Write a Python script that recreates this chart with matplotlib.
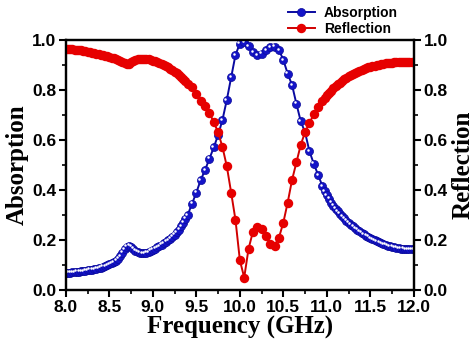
import numpy as np
import matplotlib
matplotlib.use("Agg")
import matplotlib.pyplot as plt
from matplotlib.transforms import offset_copy

plt.rcParams.update({
    "font.family": "Liberation Sans",
    "font.weight": "bold",
    "font.size": 12,
})

# frequency samples (GHz): dense at the edges, coarser in the band
freq_low = [8.0, 8.025, 8.05, 8.075, 8.1, 8.125, 8.15, 8.175, 8.2, 8.225,
            8.25, 8.275, 8.3, 8.325, 8.35, 8.375, 8.4, 8.425, 8.45, 8.475,
            8.5, 8.525, 8.55, 8.575, 8.6, 8.625, 8.65, 8.675, 8.7, 8.725,
            8.75, 8.775, 8.8, 8.825, 8.85, 8.875, 8.9, 8.925, 8.95, 8.975,
            9.0, 9.025, 9.05, 9.075, 9.1, 9.125, 9.15, 9.175, 9.2, 9.225,
            9.25, 9.275, 9.3, 9.325, 9.35, 9.375, 9.4]
freq_mid = [9.45, 9.5, 9.55, 9.6, 9.65, 9.7, 9.75, 9.8, 9.85, 9.9,
            9.95, 10.0, 10.05, 10.1, 10.15, 10.2, 10.25, 10.3, 10.35, 10.4,
            10.45, 10.5, 10.55, 10.6, 10.65, 10.7, 10.75, 10.8, 10.85, 10.9,
            10.95]
freq_high = [10.975, 11.0, 11.025, 11.05, 11.075, 11.1, 11.125, 11.15, 11.175, 11.2,
             11.225, 11.25, 11.275, 11.3, 11.325, 11.35, 11.375, 11.4, 11.425, 11.45,
             11.475, 11.5, 11.525, 11.55, 11.575, 11.6, 11.625, 11.65, 11.675, 11.7,
             11.725, 11.75, 11.775, 11.8, 11.825, 11.85, 11.875, 11.9, 11.925, 11.95,
             11.975, 12.0]

absorption_low = [0.068, 0.069, 0.070, 0.071, 0.072, 0.073, 0.074, 0.075, 0.076, 0.078,
                  0.079, 0.081, 0.082, 0.084, 0.086, 0.088, 0.090, 0.093, 0.096, 0.099,
                  0.103, 0.107, 0.112, 0.118, 0.126, 0.136, 0.150, 0.163, 0.174, 0.178,
                  0.173, 0.165, 0.158, 0.153, 0.150, 0.148, 0.148, 0.149, 0.152, 0.157,
                  0.162, 0.166, 0.171, 0.176, 0.181, 0.187, 0.193, 0.199, 0.206, 0.214,
                  0.222, 0.231, 0.242, 0.255, 0.270, 0.285, 0.300]
absorption_mid = [0.345, 0.390, 0.440, 0.480, 0.525, 0.570, 0.620, 0.680, 0.760, 0.850,
                  0.940, 0.985, 0.990, 0.975, 0.950, 0.940, 0.945, 0.958, 0.972, 0.973,
                  0.960, 0.920, 0.865, 0.820, 0.745, 0.675, 0.630, 0.555, 0.505, 0.460,
                  0.415]
absorption_high = [0.395, 0.380, 0.365, 0.350, 0.338, 0.326, 0.315, 0.305, 0.295, 0.287,
                   0.278, 0.270, 0.262, 0.255, 0.248, 0.241, 0.235, 0.229, 0.223, 0.218,
                   0.213, 0.208, 0.203, 0.199, 0.195, 0.191, 0.187, 0.184, 0.181, 0.178,
                   0.176, 0.173, 0.171, 0.169, 0.168, 0.166, 0.165, 0.164, 0.164, 0.163,
                   0.163, 0.163]

reflection_low = [0.965, 0.964, 0.963, 0.962, 0.961, 0.960, 0.959, 0.958, 0.956, 0.955,
                  0.953, 0.951, 0.949, 0.947, 0.945, 0.943, 0.941, 0.939, 0.937, 0.935,
                  0.932, 0.929, 0.926, 0.922, 0.918, 0.914, 0.910, 0.906, 0.904, 0.905,
                  0.910, 0.915, 0.919, 0.922, 0.924, 0.925, 0.925, 0.924, 0.922, 0.920,
                  0.917, 0.914, 0.911, 0.907, 0.903, 0.899, 0.895, 0.890, 0.885, 0.879,
                  0.873, 0.866, 0.859, 0.851, 0.843, 0.834, 0.824]
reflection_mid = [0.810, 0.785, 0.757, 0.735, 0.708, 0.672, 0.630, 0.572, 0.495, 0.390,
                  0.280, 0.120, 0.050, 0.165, 0.233, 0.253, 0.243, 0.215, 0.186, 0.178,
                  0.210, 0.270, 0.350, 0.440, 0.510, 0.580, 0.632, 0.668, 0.703, 0.732,
                  0.757]
reflection_high = [0.768, 0.778, 0.788, 0.797, 0.806, 0.814, 0.822, 0.829, 0.836, 0.842,
                   0.848, 0.854, 0.859, 0.864, 0.869, 0.873, 0.877, 0.881, 0.884, 0.887,
                   0.890, 0.893, 0.895, 0.897, 0.899, 0.901, 0.903, 0.904, 0.906, 0.907,
                   0.908, 0.909, 0.910, 0.911, 0.912, 0.912, 0.913, 0.913, 0.913, 0.913,
                   0.913, 0.913]

freq = freq_low + freq_mid + freq_high
absorption = absorption_low + absorption_mid + absorption_high
reflection = reflection_low + reflection_mid + reflection_high

fig = plt.figure(figsize=(4.74, 3.47), dpi=100)
ax1 = fig.add_axes([0.139, 0.164, 0.734, 0.721])
ax2 = ax1.twinx()

blue = "#1414c8"
red = "#e60000"

l1, = ax1.plot(freq, absorption, "-o", color="#0a0aa0", lw=1.4, ms=5.8,
               mfc=blue, mec="#0a0a9a", mew=0.5, label="Absorption")
# white glint on each ball
glint = offset_copy(ax1.transData, fig=fig, x=-1.0, y=1.0, units="points")
ax1.plot(freq, absorption, "o", color="white", ms=1.8, mew=0, transform=glint)

l2, = ax2.plot(freq, reflection, "-o", color="#d00000", lw=1.4, ms=6.8,
               mfc=red, mec=red, mew=0, label="Reflection")

for ax in (ax1, ax2):
    ax.set_xlim(8.0, 12.0)
    ax.set_ylim(0.0, 1.0)
    for s in ax.spines.values():
        s.set_linewidth(1.6)

ax1.set_xticks(np.arange(8.0, 12.01, 0.5))
ax1.set_xticks(np.arange(8.0, 12.01, 0.25), minor=True)
ax1.set_yticks(np.arange(0.0, 1.01, 0.2))
ax1.set_yticks(np.arange(0.0, 1.01, 0.1), minor=True)
ax2.set_yticks(np.arange(0.0, 1.01, 0.2))
ax2.set_yticks(np.arange(0.0, 1.01, 0.1), minor=True)
ax1.xaxis.set_major_formatter(plt.FormatStrFormatter("%.1f"))
ax1.yaxis.set_major_formatter(plt.FormatStrFormatter("%.1f"))
ax2.yaxis.set_major_formatter(plt.FormatStrFormatter("%.1f"))

ax1.tick_params(which="major", direction="out", length=5, width=1.5, pad=2, labelsize=12.5)
ax1.tick_params(which="minor", direction="out", length=3, width=1.2)
ax2.tick_params(which="major", direction="out", length=5, width=1.5, pad=2, labelsize=12.5)
ax2.tick_params(which="minor", direction="out", length=3, width=1.2)

label_font = dict(family="Liberation Serif", weight="bold", size=18)
ax1.set_xlabel("Frequency (GHz)", labelpad=1, **label_font)
ax1.set_ylabel("Absorption", labelpad=2, **label_font)
ax2.set_ylabel("Reflection", labelpad=3, **label_font)

fig.legend(handles=[l1, l2], loc="upper left", bbox_to_anchor=(0.595, 1.0),
           frameon=False, fontsize=10, handlelength=2.0, handletextpad=0.6,
           labelspacing=0.2, borderaxespad=0)

fig.savefig("out.png", dpi=100)
